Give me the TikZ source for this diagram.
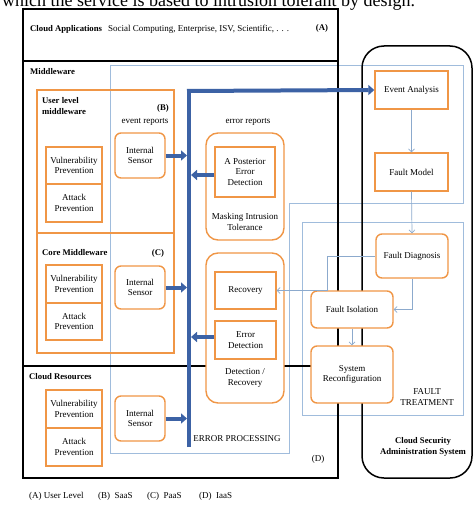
\documentclass[tikz,border=0pt]{standalone}
\usepackage{fontspec}
\setmainfont{Liberation Serif}
\usetikzlibrary{arrows.meta}
\definecolor{orng}{RGB}{240,150,70}
\definecolor{lblue}{RGB}{160,188,220}
\definecolor{tblue}{RGB}{140,170,205}
\definecolor{busblue}{RGB}{60,98,165}
\begin{document}
\begin{tikzpicture}[x=1pt,y=-1pt,font=\fontsize{9}{10.5}\selectfont,
  obox/.style={draw=orng,line width=1.4pt,inner sep=1pt,align=center},
  rbox/.style={obox,rounded corners=6pt,fill=white},
  bigr/.style={obox,rounded corners=12pt},
  thinarr/.style={draw=tblue,line width=0.7pt,-{Straight Barb[length=3pt,width=6pt]}},
  fat/.style={draw=busblue,line width=4pt,-{Triangle[length=6pt,width=10pt]}},
  blk/.style={draw=black,line width=1.5pt},
  frm/.style={draw=lblue,line width=0.8pt},
  lbl/.style={inner sep=0pt,align=center},
  blbl/.style={lbl,font=\fontsize{8.7}{11}\selectfont\bfseries}]
\useasboundingbox[fill=white] (0,0) rectangle (474,508);
% cut-off line of text above
\node[inner sep=0pt,anchor=base west,font=\fontsize{18}{20}\selectfont] (toptext) at (2,7) {which the service is based to intrusion tolerant by design.};
% light blue frames
\draw[frm] (110,65) -- (463,65) -- (463,203) -- (289,203) -- (289,453) -- (110,453) -- cycle;
\draw[frm] (302,222) rectangle (463,415);
% black outer frames
\draw[blk] (23,9) rectangle (338,478);
\draw[blk] (23,61) -- (338,61);
\coordinate (divL) at (23,366);
\coordinate (divR) at (312,366);
\draw[blk] (divL) -- (divR);
\draw[blk,rounded corners=22pt] (362,46) rectangle (472,478);
% panel labels
\node[blbl,anchor=west] (capp) at (30,29) {Cloud Applications};
\node[lbl,anchor=west] (capptxt) at (108,29) {Social Computing, Enterprise, ISV, Scientific, . . .};
\node[blbl] (la) at (322,28) {(A)};
\node[blbl,anchor=west] (mw) at (30,72) {Middleware};
\node[blbl,anchor=west] (cres) at (29,377) {Cloud Resources};
% left orange boxes
\node[obox,minimum width=137pt,minimum height=143pt] (ulm) at (105.5,161.5) {};
\node[obox,minimum width=137pt,minimum height=120pt] (cm) at (105.5,293) {};
\node[blbl,align=left,anchor=north west] (ulmt) at (42,97) {User level\\middleware};
\node[blbl] (lb) at (163,108) {(B)};
\node[lbl] (evr) at (145,122) {event reports};
\node[blbl,anchor=west] (cmt) at (42,253) {Core Middleware};
\node[blbl] (lc) at (158,253) {(C)};
\node[obox,minimum width=56pt,minimum height=37pt] (vp1) at (74,165.5) {Vulnerability\\Prevention};
\node[obox,minimum width=56pt,minimum height=38pt] (ap1) at (74,203) {Attack\\Prevention};
\node[obox,minimum width=56pt,minimum height=38pt] (vp2) at (74,284) {Vulnerability\\Prevention};
\node[obox,minimum width=56pt,minimum height=37pt] (ap2) at (74,321.5) {Attack\\Prevention};
\node[obox,minimum width=56pt,minimum height=38pt] (vp3) at (74,409) {Vulnerability\\Prevention};
\node[obox,minimum width=56pt,minimum height=38pt] (ap3) at (74,447) {Attack\\Prevention};
\node[rbox,minimum width=50pt,minimum height=45pt] (is1) at (140,155.5) {Internal\\Sensor};
\node[rbox,minimum width=50pt,minimum height=43pt] (is2) at (140,287.5) {Internal\\Sensor};
\node[rbox,minimum width=50pt,minimum height=45pt] (is3) at (140,418.5) {Internal\\Sensor};
% center boxes
\node[lbl] (err) at (248,122) {error reports};
\node[bigr,fill=white,minimum width=78pt,minimum height=107pt] (mit) at (245,186.5) {};
\node[obox,minimum width=60pt,minimum height=50pt] (ape) at (245,172) {A Posterior\\Error\\Detection};
\node[lbl] (mitt) at (245,222) {Masking Intrusion\\Tolerance};
\node[bigr,fill=white,minimum width=78pt,minimum height=150pt] (dr) at (245,328) {};
\node[obox,minimum width=61pt,minimum height=37pt] (rec) at (245.5,290.5) {Recovery};
\node[obox,minimum width=61pt,minimum height=38pt] (ed) at (245.5,340) {Error\\Detection};
\node[lbl] (drt) at (245,378) {Detection /\\Recovery};
\node[lbl] (ept) at (237,439) {ERROR PROCESSING};
\node[lbl] (ld) at (318,459) {(D)};
% right column
\node[obox,fill=white,minimum width=73pt,minimum height=38pt] (ea) at (411.5,90) {Event Analysis};
\node[obox,fill=white,minimum width=73pt,minimum height=38pt] (fm) at (411.5,172) {Fault Model};
\node[rbox,minimum width=72pt,minimum height=44pt] (fd) at (412,256) {Fault Diagnosis};
\node[rbox,minimum width=82pt,minimum height=37pt] (fi) at (352,309.5) {Fault Isolation};
\node[rbox,minimum width=82pt,minimum height=57pt] (sr) at (352,374.5) {System\\Reconfiguration};
\node[lbl] (ftt) at (427,397) {FAULT\\TREATMENT};
\node[blbl] (csa) at (423,447) {Cloud Security\\Administration System};
% thin connectors
\draw[thinarr] (ea.south) -- (fm.north);
\draw[thinarr] (fm.south) -- (fd.north);
\draw[thinarr] (fd.south) |- (fi.east);
\draw[thinarr] (fi.south) -- (sr.north);
\coordinate (tc) at (327,290.5);
\draw[thinarr] (fd.west) -| (tc) -- (rec.east);
% bus
\coordinate (busbot) at (189,447);
\coordinate (bustop) at (189,91);
\coordinate (busL) at (187,0);
\coordinate (busR) at (191,0);
\draw[fat,-] (busbot) -- (bustop);
\draw[fat] ([xshift=-2pt]bustop) -- (ea.west);
\draw[fat] (is1.east) -- (is1.east -| busL);
\draw[fat] (is2.east) -- (is2.east -| busL);
\draw[fat] (is3.east) -- (is3.east -| busL);
\draw[fat] ([yshift=-3pt]ape.west) -- ([yshift=-3pt]ape.west -| busR);
\draw[fat] ([yshift=3pt]ed.west) -- ([yshift=3pt]ed.west -| busR);
% legend
\node[lbl,anchor=west] (lg1) at (29,496) {(A) User Level};
\node[lbl,anchor=west] (lg2) at (98,496) {(B)\ \ SaaS};
\node[lbl,anchor=west] (lg3) at (147,496) {(C)\ \ PaaS};
\node[lbl,anchor=west] (lg4) at (199,496) {(D)\ \ IaaS};
\end{tikzpicture}
\end{document}
